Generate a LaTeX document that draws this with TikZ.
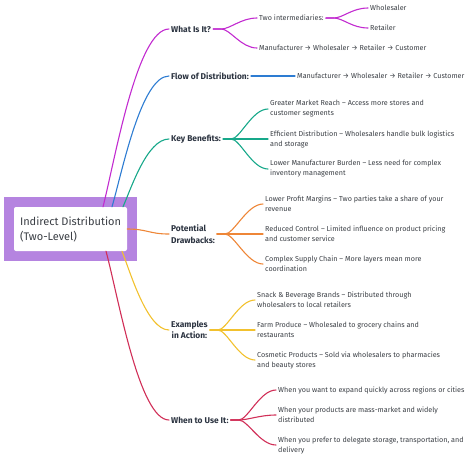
\documentclass[tikz,border=0pt]{standalone}
\usepackage{fontspec}
\setmainfont{Fira Sans}
\usetikzlibrary{calc}

\definecolor{cWhat}{HTML}{C22BD0}
\definecolor{cFlow}{HTML}{2D7CD2}
\definecolor{cBene}{HTML}{17A88A}
\definecolor{cDraw}{HTML}{EE8637}
\definecolor{cExam}{HTML}{F2C12E}
\definecolor{cWhen}{HTML}{D12F58}
\definecolor{cRoot}{HTML}{B584E0}
\definecolor{ink}{HTML}{2B3340}
\definecolor{leafink}{HTML}{3B3F45}

\begin{document}
\begin{tikzpicture}[x=1pt,y=-1pt,
  topic/.style={anchor=west,inner sep=2pt,text=ink,align=left,
    font=\fontsize{8.4}{11.5}\selectfont\bfseries},
  leaf/.style={anchor=west,inner sep=2pt,text=leafink,align=left,
    font=\fontsize{7.2}{10}\selectfont},
  link/.style={line width=1.1pt,draw=#1,line cap=round}]
\useasboundingbox (0,0) rectangle (474,459);

% central topic
\fill[cRoot] (4,197) rectangle (137,261);
\node[fill=white,rounded corners=2pt,minimum width=113pt,
  minimum height=44pt,align=left,text=leafink,
  font=\fontsize{11}{15}\selectfont] (root) at (70.5,229)
  {Indirect Distribution\\(Two-Level)};

% main topics
\node[topic] (what) at (169,29) {What Is It?};
\node[topic] (flow) at (169,76) {Flow of Distribution:};
\node[topic] (bene) at (169,139) {Key Benefits:};
\node[topic] (draw) at (169,234) {Potential\\Drawbacks:};
\node[topic,align=center] (exam) at (169,330) {Examples\\in Action:};
\node[topic] (when) at (169,420) {When to Use It:};

% leaves
\node[leaf] (two) at (257,18) {Two intermediaries:};
\node[leaf] (chain) at (257,48) {Manufacturer → Wholesaler → Retailer → Customer};
\node[leaf] (whole) at (368,8) {Wholesaler};
\node[leaf] (retail) at (368,28) {Retailer};
\node[leaf] (flow1) at (295,76) {Manufacturer → Wholesaler → Retailer → Customer};
\node[leaf] (bene1) at (268,109) {Greater Market Reach – Access more stores and\\customer segments};
\node[leaf] (bene2) at (268,139) {Efficient Distribution – Wholesalers handle bulk logistics\\and storage};
\node[leaf] (bene3) at (268,169) {Lower Manufacturer Burden – Less need for complex\\inventory management};
\node[leaf] (draw1) at (263,204) {Lower Profit Margins – Two parties take a share of your\\revenue};
\node[leaf] (draw2) at (263,234) {Reduced Control – Limited influence on product pricing\\and customer service};
\node[leaf] (draw3) at (263,264) {Complex Supply Chain – More layers mean more\\coordination};
\node[leaf] (exam1) at (255,300) {Snack \& Beverage Brands – Distributed through\\wholesalers to local retailers};
\node[leaf] (exam2) at (255,330) {Farm Produce – Wholesaled to grocery chains and\\restaurants};
\node[leaf] (exam3) at (255,360) {Cosmetic Products – Sold via wholesalers to pharmacies\\and beauty stores};
\node[leaf] (when1) at (276,390) {When you want to expand quickly across regions or cities};
\node[leaf] (when2) at (276,415) {When your products are mass-market and widely\\distributed};
\node[leaf] (when3) at (276,445) {When you prefer to delegate storage, transportation, and\\delivery};

% root to topics
\draw[link=cWhat] ([xshift=32.5pt]root.north) .. controls +(12,-47) and +(-32,0) .. (what.west);
\draw[link=cFlow] ([xshift=41.5pt]root.north) .. controls +(10,-34) and +(-28,0) .. (flow.west);
\draw[link=cBene] ([xshift=52.5pt]root.north) .. controls +(8,-18) and +(-22,0) .. (bene.west);
\draw[link=cDraw] (root.east) .. controls +(20,0) and +(-20,0) .. (draw.west);
\draw[link=cExam] ([xshift=51.5pt]root.south) .. controls +(8,20) and +(-22,0) .. (exam.west);
\draw[link=cWhen] ([xshift=35.5pt]root.south) .. controls +(12,44) and +(-30,0) .. (when.west);

% topics to leaves
\foreach \a/\b in {what/two,what/chain}
  \draw[link=cWhat] (\a.east) -- ++(8,0) .. controls +(9,0) and +(-16,0) .. (\b.west);
\foreach \b in {whole,retail}
  \draw[link=cWhat] (two.east) -- ++(8,0) .. controls +(9,0) and +(-16,0) .. (\b.west);
\draw[link=cFlow] (flow.east) -- (flow1.west);
\foreach \b in {bene1,bene2,bene3}
  \draw[link=cBene] (bene.east) -- ++(8,0) .. controls +(9,0) and +(-16,0) .. (\b.west);
\foreach \b in {draw1,draw2,draw3}
  \draw[link=cDraw] (draw.east) -- ++(8,0) .. controls +(9,0) and +(-16,0) .. (\b.west);
\foreach \b in {exam1,exam2,exam3}
  \draw[link=cExam] (exam.east) -- ++(8,0) .. controls +(9,0) and +(-16,0) .. (\b.west);
\foreach \b in {when1,when2,when3}
  \draw[link=cWhen] (when.east) -- ++(8,0) .. controls +(9,0) and +(-16,0) .. (\b.west);
\end{tikzpicture}
\end{document}
